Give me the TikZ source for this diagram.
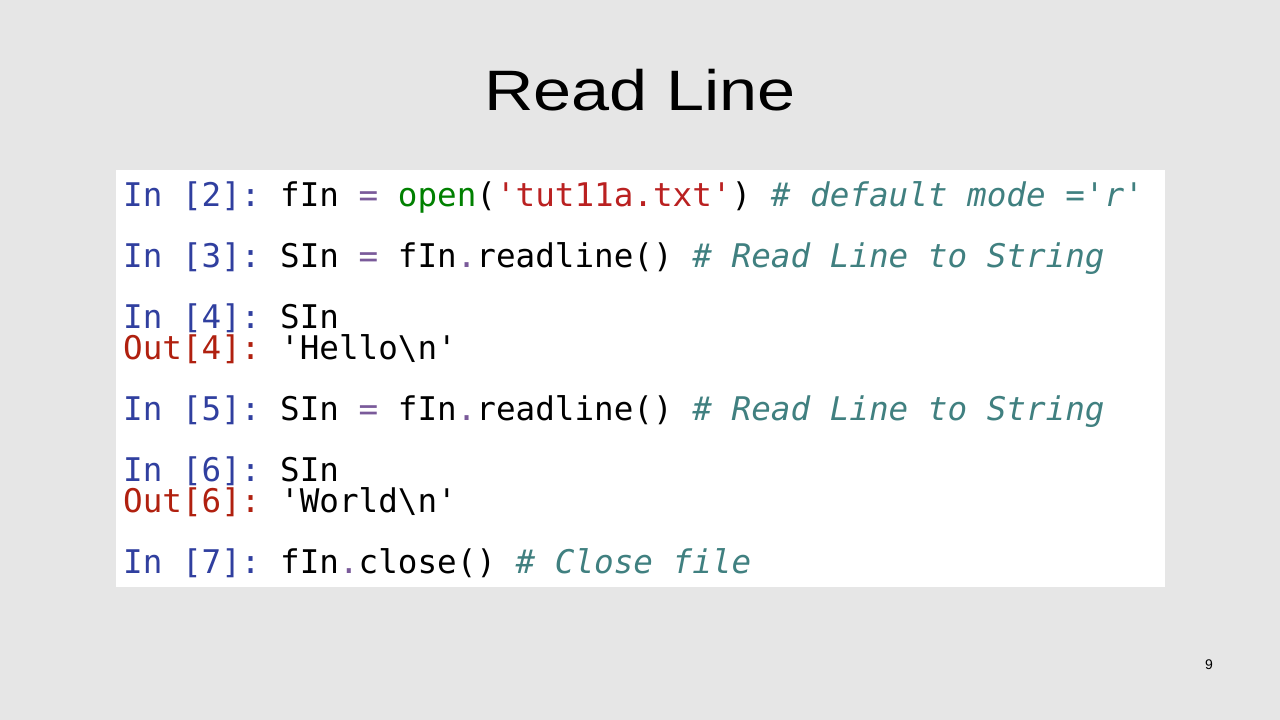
\documentclass[tikz,border=0pt]{standalone}
\usepackage{fontspec}
\setmainfont{Liberation Sans}
\setmonofont{DejaVu Sans Mono}
\definecolor{bg}{HTML}{E6E6E6}
\definecolor{inb}{HTML}{303F9F}
\definecolor{outr}{HTML}{B0200F}
\definecolor{kw}{HTML}{008000}
\definecolor{str}{HTML}{BA2121}
\definecolor{cm}{HTML}{408080}
\definecolor{op}{HTML}{7A5A9A}
\newcommand{\In}[1]{\textcolor{inb}{In [#1]:}}
\newcommand{\Out}[1]{\textcolor{outr}{Out[#1]:}}
\newcommand{\cmt}[1]{\textcolor{cm}{\itshape #1}}
\newcommand{\oq}{\textcolor{op}{=}}
\newcommand{\dt}{\textcolor{op}{.}}
\begin{document}
\begin{tikzpicture}[x=1pt,y=-1pt,
  code/.style={anchor=base west,inner sep=0pt,font=\fontsize{32.6}{32}\ttfamily}]
\fill[bg] (0,0) rectangle (1280,720);
\useasboundingbox (0,0) rectangle (1280,720);
\node[font=\fontsize{57}{57}\selectfont,xscale=1.2] (title) at (640,90) {Read Line};
\fill[white] (116,170) rectangle (1165,587);
\node[code] (l1) at (123,206) {\In{2} fIn \oq{} \textcolor{kw}{open}(\textcolor{str}{'tut11a.txt'}) \cmt{\# default mode ='r'}};
\node[code] (l2) at (123,267) {\In{3} SIn \oq{} fIn\dt{}readline() \cmt{\# Read Line to String}};
\node[code] (l3) at (123,328) {\In{4} SIn};
\node[code] (l4) at (123,359) {\Out{4} 'Hello\textbackslash n'};
\node[code] (l5) at (123,420) {\In{5} SIn \oq{} fIn\dt{}readline() \cmt{\# Read Line to String}};
\node[code] (l6) at (123,481) {\In{6} SIn};
\node[code] (l7) at (123,512) {\Out{6} 'World\textbackslash n'};
\node[code] (l8) at (123,573) {\In{7} fIn\dt{}close() \cmt{\# Close file}};
\node[font=\fontsize{14}{14}\selectfont] (pg) at (1209,665) {9};
\end{tikzpicture}
\end{document}
